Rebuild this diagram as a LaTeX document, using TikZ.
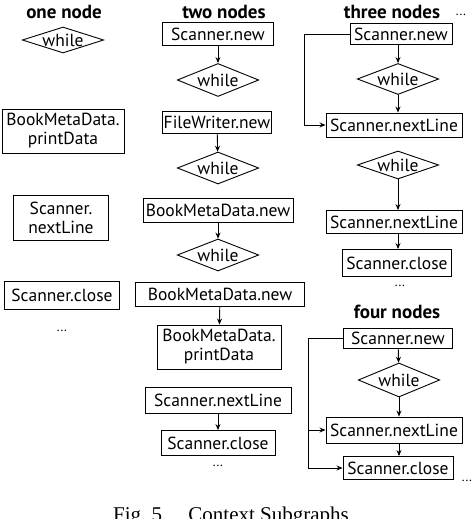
\documentclass[tikz,border=0pt]{standalone}
\usepackage{fontspec}
\setmainfont{PT Sans}
\newfontfamily\capfont{Liberation Serif}
\usetikzlibrary{shapes.geometric,arrows.meta}
\begin{document}
\begin{tikzpicture}[x=1pt,y=-1pt,
  every node/.style={font=\fontsize{17.5}{19}\selectfont},
  box/.style={draw,line width=0.9pt,inner sep=0pt,align=center},
  cond/.style={draw,diamond,aspect=3.2,line width=0.9pt,inner sep=0pt},
  ttl/.style={font=\fontsize{19}{21}\selectfont\bfseries},
  dots/.style={font=\fontsize{13}{14}\selectfont},
  arr/.style={line width=0.9pt,-{Stealth[length=6pt,width=5pt]}},
  ln/.style={line width=0.9pt}]
\useasboundingbox (0,0) rectangle (474,519);
% column 1
\node[ttl] (t1) at (64,12) {one node};
\node[cond,minimum width=79pt,minimum height=26pt] (a1) at (63,40) {while};
\node[box,minimum width=122pt,minimum height=44pt] (a2) at (63,131) {BookMetaData.\\printData};
\node[box,minimum width=95pt,minimum height=45pt] (a3) at (61,218) {Scanner.\\nextLine};
\node[box,minimum width=115pt,minimum height=28pt] (a4) at (62,295) {Scanner.close};
\node[dots] (a5) at (62,331) {...};
% column 2
\node[ttl] (t2) at (224,12) {two nodes};
\node[box,minimum width=111pt,minimum height=23pt] (b1) at (218,34) {Scanner.new};
\node[cond,minimum width=80pt,minimum height=33pt] (b2) at (218,80) {while};
\node[box,minimum width=109pt,minimum height=22pt] (b3) at (217,122) {FileWriter.new};
\node[cond,minimum width=80pt,minimum height=32pt] (b4) at (218,168) {while};
\node[box,minimum width=150pt,minimum height=24pt] (b5) at (218,210) {BookMetaData.new};
\node[cond,minimum width=80pt,minimum height=32pt] (b6) at (218,255) {while};
\node[box,minimum width=169pt,minimum height=24pt] (b7) at (220,294) {BookMetaData.new};
\node[box,minimum width=124pt,minimum height=44pt] (b8) at (219,347) {BookMetaData.\\printData};
\node[box,minimum width=146pt,minimum height=26pt] (b9) at (218,400) {Scanner.nextLine};
\node[box,minimum width=114pt,minimum height=25pt] (b10) at (218,443) {Scanner.close};
\node[dots] (b11) at (218,466) {...};
\draw[arr] (b1) -- (b2);
\draw[arr] (b3) -- (b4);
\draw[arr] (b5) -- (b6);
\draw[arr] (b7) -- (b8);
\draw[arr] (b9) -- (b10);
% column 3
\node[ttl] (t3) at (392,12) {three nodes};
\node[dots] (t3d) at (461,15) {...};
\node[box,minimum width=102pt,minimum height=21pt] (c1) at (401,34) {Scanner.new};
\node[cond,minimum width=79pt,minimum height=31pt] (c2) at (398,79) {while};
\node[box,minimum width=136pt,minimum height=24pt] (c3) at (394,125) {Scanner.nextLine};
\node[cond,minimum width=79pt,minimum height=28pt] (c4) at (398,165) {while};
\node[box,minimum width=136pt,minimum height=23pt] (c5) at (394,222) {Scanner.nextLine};
\node[box,minimum width=109pt,minimum height=27pt] (c6) at (397,263) {Scanner.close};
\node[dots] (c7) at (400,286) {...};
\coordinate (cl1) at (304,34);
\coordinate (cl2) at (304,125);
\draw[arr] (c1.south -| c2) -- (c2);
\draw[arr] (c2) -- (c3.north -| c2);
\draw[ln] (c1.west) -- (cl1) -- (cl2);
\draw[arr] (cl2) -- (c3.west);
\draw[arr] (c4) -- (c5.north -| c4);
\draw[arr] (c5.south -| c4) -- (c6.north -| c4);
% four nodes
\node[ttl] (t4) at (397,312) {four nodes};
\node[box,minimum width=109pt,minimum height=20pt] (d1) at (398,338) {Scanner.new};
\node[cond,minimum width=80pt,minimum height=34pt] (d2) at (399,380) {while};
\node[box,minimum width=136pt,minimum height=26pt] (d3) at (394,430) {Scanner.nextLine};
\node[box,minimum width=110pt,minimum height=23pt] (d4) at (398,468) {Scanner.close};
\node[dots] (d5) at (467,481) {...};
\coordinate (dl1) at (308,338);
\coordinate (dl2) at (308,430);
\coordinate (dl3) at (308,468);
\draw[arr] (d1) -- (d2);
\draw[arr] (d2) -- (d3.north -| d2);
\draw[arr] (d3.south -| d2) -- (d4.north -| d2);
\draw[ln] (d1.west) -- (dl1) -- (dl3);
\draw[arr] (dl2) -- (d3.west);
\draw[arr] (dl3) -- (d4.west);
% caption
\node[font=\capfont\fontsize{21}{23}\selectfont] (cap) at (231,516) {Fig.~5.\quad Context Subgraphs};
\end{tikzpicture}
\end{document}
